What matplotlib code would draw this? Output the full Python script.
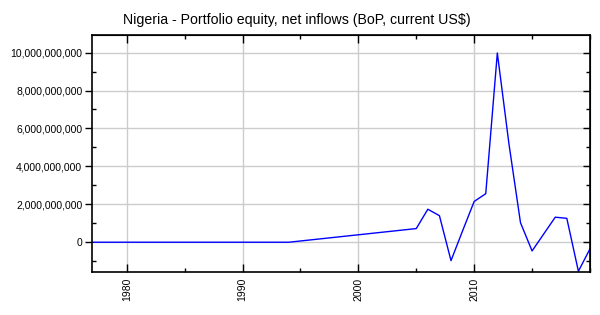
#Nigeria portfolio equity net inflows - line chart recreated with matplotlib
import matplotlib
matplotlib.use("Agg")
import matplotlib.pyplot as plt
from matplotlib.ticker import FuncFormatter, MultipleLocator

plt.rcParams["font.family"] = ["Liberation Sans", "DejaVu Sans"]

#values (US$), gaps between 1994 and 2005 joined by the line
years = [1977, 1978, 1979, 1980, 1981, 1982, 1983, 1984, 1985, 1986, 1987, 1988,
         1989, 1990, 1991, 1992, 1993, 1994, 2005, 2006, 2007, 2008, 2009, 2010,
         2011, 2012, 2013, 2014, 2015, 2016, 2017, 2018, 2019, 2020]
inflows = [0, 0, 0, 0, 0, 0, 0, 0, 0, 0, 0, 0,
           0, 0, 0, 0, 0, 0, 0.72e9, 1.74e9, 1.40e9, -0.97e9, 0.6e9, 2.15e9,
           2.56e9, 9.98e9, 5.2e9, 1.03e9, -0.46e9, 0.43e9, 1.32e9, 1.26e9, -1.53e9, -0.35e9]

x_ticks = [1980, 1990, 2000, 2010]
y_ticks = [0, 2e9, 4e9, 6e9, 8e9, 10e9]

fig = plt.figure(figsize=(6, 3.15), dpi=100)
ax = fig.add_axes([0.1533, 0.1365, 0.83, 0.7525])

ax.plot(years, inflows, color="#0000ff", linewidth=1, zorder=2)

ax.set_xlim(1977, 2020)
ax.set_ylim(-1.57e9, 10.93e9)
ax.set_xticks(x_ticks)
ax.set_yticks(y_ticks)
ax.xaxis.set_minor_locator(MultipleLocator(5))
ax.yaxis.set_minor_locator(MultipleLocator(1e9))
ax.yaxis.set_major_formatter(FuncFormatter(lambda v, p: f"{int(round(v)):,}"))

ax.grid(True, which="major", color="#cccccc", linewidth=1)
ax.set_axisbelow(True)

#left axis: major ticks out, minor ticks in; bottom: all ticks in
ax.tick_params(axis="y", which="major", direction="out", length=5, width=1, labelsize=7.5, pad=2)
ax.tick_params(axis="y", which="minor", direction="in", length=3, width=1)
ax.tick_params(axis="x", which="major", direction="in", length=6, width=1, labelsize=7.5,
               labelrotation=90, pad=4)
ax.tick_params(axis="x", which="minor", direction="in", length=3, width=1)

#mirror ticks on the top and right, kept above the grid
top = ax.secondary_xaxis("top")
top.set_zorder(3)
top.set_xticks(x_ticks)
top.xaxis.set_minor_locator(MultipleLocator(5))
top.tick_params(which="major", direction="in", length=6, width=1, labeltop=False)
top.tick_params(which="minor", direction="in", length=3, width=1)
right = ax.secondary_yaxis("right")
right.set_zorder(3)
right.set_yticks(y_ticks)
right.yaxis.set_minor_locator(MultipleLocator(1e9))
right.tick_params(which="major", direction="in", length=5, width=1, labelright=False)
right.tick_params(which="minor", direction="in", length=3, width=1)

for sp in ax.spines.values():
    sp.set_linewidth(1.2)

fig.text(0.495, 0.937, "Nigeria - Portfolio equity, net inflows (BoP, current US$)",
         ha="center", va="center", fontsize=10.2)

fig.savefig("out.png", dpi=100)
